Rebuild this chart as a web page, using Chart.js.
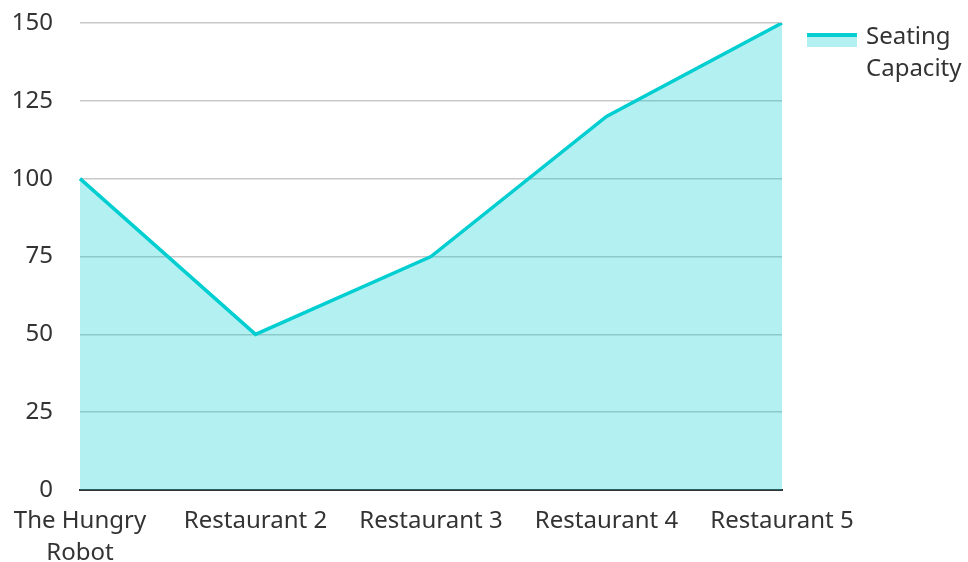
<!DOCTYPE html>
<html>
<head>
<meta charset="utf-8">
<script src="https://cdn.jsdelivr.net/npm/chart.js@4/dist/chart.umd.min.js"></script>
<style>
  html, body { margin: 0; padding: 0; background: #fff; }
  #wrap { position: relative; width: 968px; height: 562px; }
  #legend {
    position: absolute; left: 807px; top: 19px;
    font-family: "Noto Sans", sans-serif; font-size: 24px; color: #333;
    line-height: 32px;
  }
  #legend .box {
    position: absolute; left: 0; top: 14px; width: 50px; height: 10px;
    background: rgba(0, 206, 209, 0.3); border-top: 4px solid #00ced1;
  }
  #legend .txt { margin-left: 59px; }
</style>
</head>
<body>
<div id="wrap">
  <canvas id="seatingChart" width="968" height="562"></canvas>
  <div id="legend"><div class="box"></div><div class="txt">Seating<br>Capacity</div></div>
</div>
<script>
const restaurants = [["The Hungry", "Robot"], "Restaurant 2", "Restaurant 3", "Restaurant 4", "Restaurant 5"];
const seatingCapacity = [100, 50, 75, 120, 150];

const ctx = document.getElementById("seatingChart").getContext("2d");

const config = {
  type: "line",
  data: {
    labels: restaurants,
    datasets: [
      {
        label: "Seating Capacity",
        data: seatingCapacity,
        borderColor: "#00ced1",
        backgroundColor: "rgba(0, 206, 209, 0.3)",
        borderWidth: 3.5,
        fill: true,
        tension: 0,
        pointRadius: 0,
      },
    ],
  },
  options: {
    responsive: false,
    animation: false,
    layout: {
      padding: { right: 186, top: 23, left: 0, bottom: 0 },
    },
    plugins: {
      legend: { display: false },
      tooltip: { enabled: false },
    },
    scales: {
      x: {
        offset: false,
        ticks: {
          color: "#333",
          font: { family: "Noto Sans", size: 24, lineHeight: 1.3 },
          maxRotation: 0,
          autoSkip: false,
          padding: 8,
        },
        grid: { display: false },
        border: { display: true, color: "#333", width: 2 },
        afterFit: (scale) => {
          scale.height = 72;
          scale.paddingLeft = 0;
          scale.paddingRight = 0;
        },
      },
      y: {
        min: 0,
        max: 150,
        ticks: {
          stepSize: 25,
          color: "#333",
          font: { family: "Noto Sans", size: 24 },
          padding: 27,
        },
        grid: { color: "#c8c8c8", lineWidth: 1.5, drawTicks: false },
        border: { display: false },
        afterFit: (scale) => {
          scale.width = 80;
          scale.paddingTop = 0;
          scale.paddingBottom = 0;
        },
      },
    },
  },
};

new Chart(ctx, config);
</script>
</body>
</html>
